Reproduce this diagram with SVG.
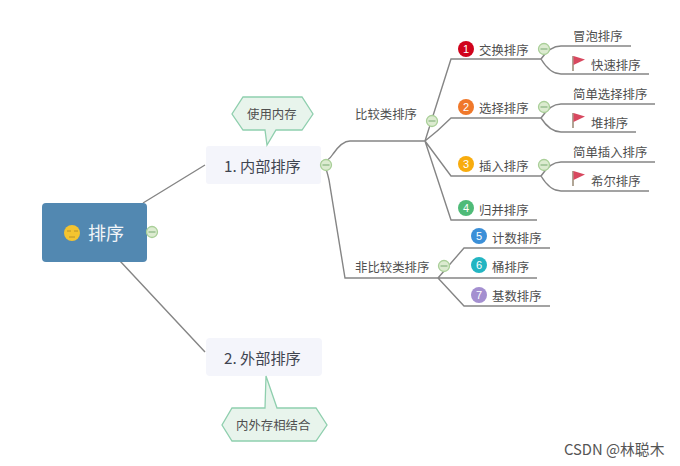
<svg xmlns="http://www.w3.org/2000/svg" width="680" height="466" viewBox="0 0 680 466">
<style>
text{font-family:"Noto Sans CJK SC","Liberation Sans",sans-serif;fill:#4f4f4f;font-size:12.4px}
.c{fill:none;stroke:#858585;stroke-width:1.4}
.t{font-size:15.2px;fill:#3f4450}
.b{fill:#f4f5fb}
.co{fill:#dcebd0;stroke:#a9cf98;stroke-width:1.3}
.cl{stroke:#8db887;stroke-width:1.3}
.call{fill:#e8f4ec;stroke:#8fcfae;stroke-width:1.3}
.num{fill:#fff;font-size:11px;font-family:"Liberation Sans",sans-serif;text-anchor:middle}
.fp{fill:#d8485f}
.fs{stroke:#7d6a50;stroke-width:1.2}
</style>
<defs>
<g id="col"><circle r="5.500" class="co"/><line x1="-3.500" x2="3.500" class="cl"/></g>
<g id="flag"><line x1="0" y1="0" x2="0" y2="15" class="fs"/><path d="M0.5 0L12 3.500L0.500 9Z" class="fp"/></g>
</defs>
<rect width="680" height="466" fill="#fff"/>
<g id="connectors">
<path class="c" d="M143 203L205 165M120 261L205 352"/>
<path class="c" d="M321 162Q328 162 333 154Q342 141 350 141H425M321 162Q325 162 329 180L345 278H438"/>
<path class="c" d="M425 141L451 59H541M425 141Q438 131 451 118H541M425 141L451 176H541M425 141L451 220H537"/>
<path class="c" d="M541 59Q550 46 561 46H631M541 59Q550 74 561 74H649"/>
<path class="c" d="M541 118Q550 104 561 104H655M541 118Q550 132 561 132H636"/>
<path class="c" d="M541 176Q550 162 561 162H655M541 176Q550 191 561 191H649"/>
<path class="c" d="M438 278L464 248H550M438 278H537M438 278L464 306H550"/>
</g>
<g id="root"><rect x="42" y="203" width="105" height="59" rx="4" fill="#5288b1"/><circle cx="72" cy="233" r="8" fill="#f4c430"/><path d="M67 231h4M74 231h4M69 237h6" stroke="#a8862a" stroke-width="0.8" fill="none"/><text x="88" y="239.500" style="font-size:18px;fill:#f2f5f8">排序</text><use href="#col" x="152" y="232"/></g>
<g id="n1"><rect x="206" y="146" width="115" height="38" rx="3" class="b"/><text x="224" y="172" class="t">1. 内部排序</text><use href="#col" x="326" y="165"/></g>
<g id="n2"><rect x="206" y="338" width="116" height="38" rx="4" class="b"/><text x="224" y="364" class="t">2. 外部排序</text></g>
<g id="call1"><path class="call" d="M243 97H302L313 114L302 130H276L267 145L265 130H243L232 114Z"/><text x="247" y="119">使用内存</text></g>
<g id="call2"><path class="call" d="M232 408H265L266 376L277 408H316L327 425L316 441H232L222 425Z"/><text x="236" y="430">内外存相结合</text></g>
<g id="cmp"><text x="355" y="118.500">比较类排序</text><use href="#col" x="432" y="121"/></g>
<g id="noncmp"><text x="355" y="272">非比较类排序</text><use href="#col" x="444" y="266"/></g>
<g id="s1"><circle cx="466" cy="49" r="8" fill="#d0021b"/><text x="466" y="53" class="num">1</text><text x="479" y="54.500">交换排序</text><use href="#col" x="544" y="49"/></g>
<g id="s2"><circle cx="466" cy="107" r="8" fill="#f0782a"/><text x="466" y="111" class="num">2</text><text x="479" y="112.500">选择排序</text><use href="#col" x="544" y="107"/></g>
<g id="s3"><circle cx="466" cy="164" r="8" fill="#f8ac0e"/><text x="466" y="168" class="num">3</text><text x="479" y="170.500">插入排序</text><use href="#col" x="544" y="165"/></g>
<g id="s4"><circle cx="466" cy="208" r="8" fill="#4fbb78"/><text x="466" y="212" class="num">4</text><text x="479" y="214.500">归并排序</text></g>
<g id="s5"><circle cx="479" cy="236" r="8" fill="#3b8fd8"/><text x="479" y="240" class="num">5</text><text x="492" y="242.500">计数排序</text></g>
<g id="s6"><circle cx="479" cy="265" r="8" fill="#23b5c2"/><text x="479" y="269" class="num">6</text><text x="492" y="271.500">桶排序</text></g>
<g id="s7"><circle cx="479" cy="295" r="8" fill="#a48fd0"/><text x="479" y="299" class="num">7</text><text x="492" y="300.500">基数排序</text></g>
<g id="l1"><text x="573" y="40.500">冒泡排序</text></g>
<g id="l2"><use href="#flag" x="573" y="56"/><text x="591" y="69.500">快速排序</text></g>
<g id="l3"><text x="573" y="98.500">简单选择排序</text></g>
<g id="l4"><use href="#flag" x="573" y="113"/><text x="591" y="127.500">堆排序</text></g>
<g id="l5"><text x="573" y="156.500">简单插入排序</text></g>
<g id="l6"><use href="#flag" x="573" y="171"/><text x="591" y="185.500">希尔排序</text></g>
<g id="wm"><text x="564" y="455" style="font-size:14.800px;fill:#555">CSDN @林聪木</text></g>
</svg>
